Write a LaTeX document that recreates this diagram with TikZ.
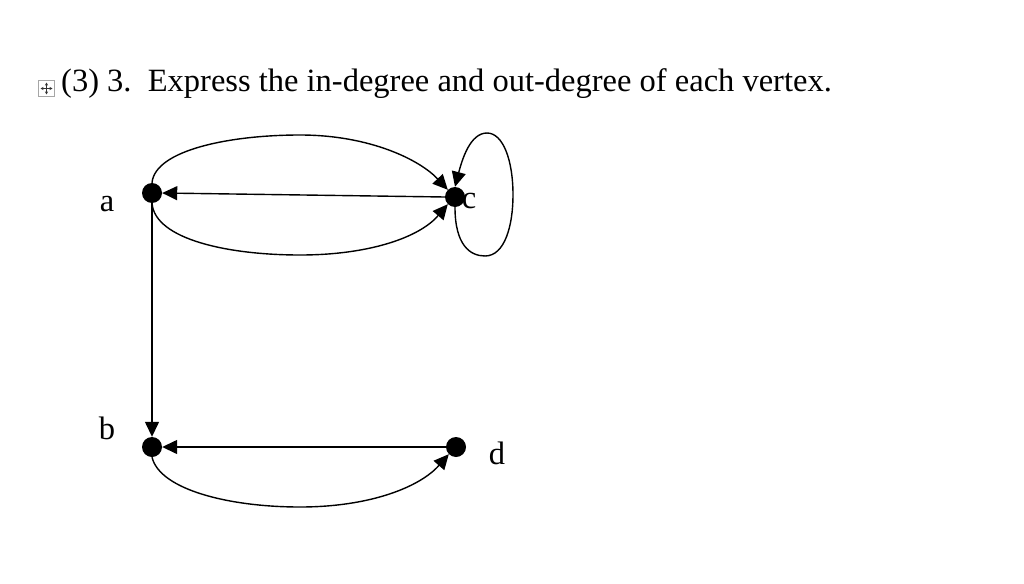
\documentclass[tikz,border=0pt]{standalone}
\usepackage{fontspec}
\setmainfont{Liberation Serif}
\usetikzlibrary{arrows.meta}
\tikzset{
  vtx/.style={circle,fill=black,inner sep=0pt,minimum size=20pt},
  lbl/.style={font=\fontsize{32.5}{36}\selectfont,inner sep=0pt},
  edge/.style={line width=1.4pt,-{Triangle[length=15pt,width=14pt]}},
}
\begin{document}
\begin{tikzpicture}[x=1pt,y=-1pt]
\useasboundingbox[fill=white] (0,0) rectangle (1024,583);
% icon
\node[draw=gray!70,line width=0.8pt,minimum size=16pt,inner sep=0pt] (icon) at (46.5,88.5) {};
\draw[line width=0.8pt,gray!40!black,-{Stealth[length=3pt,width=3pt]}] (icon.center) -- ++(0,-6);
\draw[line width=0.8pt,gray!40!black,-{Stealth[length=3pt,width=3pt]}] (icon.center) -- ++(0,6);
\draw[line width=0.8pt,gray!40!black,-{Stealth[length=3pt,width=3pt]}] (icon.center) -- ++(-6,0);
\draw[line width=0.8pt,gray!40!black,-{Stealth[length=3pt,width=3pt]}] (icon.center) -- ++(6,0);
\node[lbl,anchor=base west] (title) at (61,92) {(3) 3.\ \ Express the in-degree and out-degree of each vertex.};
% vertices
\node[vtx] (a) at (152,193) {};
\node[vtx] (c) at (455,197) {};
\node[vtx] (b) at (152,447) {};
\node[vtx] (d) at (456,447) {};
\node[lbl] (la) at (107,204) {a};
\node[lbl] (lc) at (469,201) {c};
\node[lbl] (lb) at (107,428) {b};
\node[lbl] (ld) at (497,453) {d};
% edges
\draw[edge] (c.west) -- (a.east);
\draw[edge] (a.north) .. controls (155,150) and (230,135) .. (300,135) .. controls (370,135) and (420,160) .. (c.north west);
\draw[edge] (a.south) .. controls (155,240) and (230,255) .. (300,255) .. controls (370,255) and (420,237) .. (c.south west);
\draw[edge] (c.south) .. controls (455,245) and (470,256) .. (485,256) .. controls (505,256) and (513,225) .. (513,195) .. controls (513,160) and (503,133) .. (487,133) .. controls (470,133) and (462,160) .. (c.north);
\draw[edge] (a.south) -- (b.north);
\draw[edge] (d.west) -- (b.east);
\draw[edge] (b.south) .. controls (160,490) and (230,507) .. (300,507) .. controls (370,507) and (420,487) .. (d.south west);
\end{tikzpicture}
\end{document}
